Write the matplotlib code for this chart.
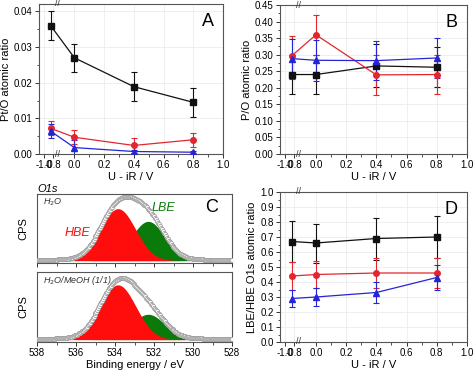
import numpy as np
import matplotlib
matplotlib.use("Agg")
import matplotlib.pyplot as plt
from matplotlib.ticker import MultipleLocator, AutoMinorLocator, FixedLocator
import matplotlib.transforms as mtransforms

plt.rcParams['font.family'] = ['Liberation Sans', 'DejaVu Sans']
plt.rcParams['axes.unicode_minus'] = False

# potentials (U - iR); first point sits left of the axis break
potential = [-0.85, 0.0, 0.4, 0.8]

# panel A: Pt/O atomic ratio
pt_black = [0.0360, 0.0270, 0.0189, 0.0145]
pt_black_err = [0.0040, 0.0040, 0.0041, 0.0040]
pt_red = [0.0072, 0.0047, 0.0024, 0.0040]
pt_red_err = [0.0020, 0.0020, 0.0020, 0.0020]
pt_blue = [0.0064, 0.0018, 0.0007, 0.0005]
pt_blue_err = [0.0020, 0.0020, 0.0003, 0.0003]

# panel B: P/O atomic ratio
p_black = [0.240, 0.240, 0.266, 0.262]
p_black_err = [0.060, 0.060, 0.065, 0.060]
p_red = [0.297, 0.360, 0.239, 0.240]
p_red_err = [0.060, 0.060, 0.060, 0.060]
p_blue = [0.288, 0.283, 0.282, 0.290]
p_blue_err = [0.060, 0.062, 0.060, 0.060]

# panel D: LBE/HBE O1s ratio
o_black = [0.670, 0.660, 0.690, 0.700]
o_black_err = [0.135, 0.130, 0.140, 0.140]
o_red = [0.440, 0.450, 0.460, 0.460]
o_red_err = [0.095, 0.090, 0.100, 0.100]
o_blue = [0.290, 0.300, 0.330, 0.430]
o_blue_err = [0.058, 0.060, 0.068, 0.085]

# panel C: fitted O1s components (centre eV, height rel., sigma eV)
peak_names = ["HBE", "LBE"]
peak_centers = [533.85, 532.30]
h2o_heights = [0.78, 0.59]
h2o_sigmas = [0.90, 0.85]
meoh_heights = [0.81, 0.375]
meoh_sigmas = [0.92, 0.85]

xticks = [-1.0, -0.8, 0.0, 0.2, 0.4, 0.6, 0.8, 1.0]
series_colors = ["#111111", "#e3262d", "#2525d6"]
series_markers = ["s", "o", "^"]


def fwd(x):
    x = np.asarray(x, dtype=float)
    return np.where(x >= 0, x, np.where(x >= -0.8, 0.18 * x, -0.144 + 0.3 * (x + 0.8)))


def inv(u):
    u = np.asarray(u, dtype=float)
    return np.where(u >= 0, u, np.where(u >= -0.144, u / 0.18, -0.8 + (u + 0.144) / 0.3))


def px(l, t, r, b):
    return [l / 474, 1 - b / 375, (r - l) / 474, (b - t) / 375]


def style_ticks(ax):
    ax.tick_params(labelsize=7, length=3, width=0.7, pad=1.5, colors='#333333', labelcolor='black')
    ax.tick_params(which='minor', length=1.8, width=0.6, colors='#333333')
    for s in ax.spines.values():
        s.set_color('#555555')
        s.set_linewidth(0.8)


def ratio_panel(ax, data, ylim, ystep, yfmt, ylabel, letter):
    ax.set_xscale('function', functions=(fwd, inv))
    for (y, e), c, m in zip(data, series_colors, series_markers):
        ax.errorbar(potential, y, yerr=e, color=c, marker=m, ms=4, lw=0.9,
                    elinewidth=0.8, capsize=2, capthick=0.8, zorder=3)
    ax.set_xlim(-1.113, 1.0)
    ax.set_ylim(*ylim)
    ax.xaxis.set_major_locator(FixedLocator(xticks))
    ax.set_xticklabels([f"{t:.1f}" for t in xticks])
    ax.xaxis.set_minor_locator(FixedLocator([0.1, 0.3, 0.5, 0.7, 0.9]))
    ax.yaxis.set_major_locator(MultipleLocator(ystep))
    ax.yaxis.set_minor_locator(AutoMinorLocator(2))
    ax.yaxis.set_major_formatter(yfmt)
    style_ticks(ax)
    ax.grid(True, which='major', color='#ececec', lw=0.6)
    ax.set_axisbelow(True)
    ax.set_xlabel("U - iR / V", fontsize=8, labelpad=1.5)
    ax.set_ylabel(ylabel, fontsize=8, labelpad=2)
    ax.text(0.95, 0.88, letter, transform=ax.transAxes, fontsize=13, ha='right', va='center')
    # axis break marks
    tr = mtransforms.blended_transform_factory(ax.transData, ax.transAxes)
    for yy in (0.0, 1.0):
        ax.text(-0.64, yy, "//", transform=tr, fontsize=6.5, ha='center', va='center',
                color='#333333', clip_on=False)


fig = plt.figure(figsize=(4.74, 3.75), dpi=100)

axA = fig.add_axes(px(39, 4, 223, 154))
ratio_panel(axA, [(pt_black, pt_black_err), (pt_red, pt_red_err), (pt_blue, pt_blue_err)],
            (0, 0.0421), 0.01, "{x:.2f}", "Pt/O atomic ratio", "A")

axB = fig.add_axes(px(280, 5, 467, 154))
ratio_panel(axB, [(p_black, p_black_err), (p_red, p_red_err), (p_blue, p_blue_err)],
            (0, 0.45), 0.05, "{x:.2f}", "P/O atomic ratio", "B")

axD = fig.add_axes(px(280, 192, 467, 342))
ratio_panel(axD, [(o_black, o_black_err), (o_red, o_red_err), (o_blue, o_blue_err)],
            (0, 1.0), 0.1, "{x:.1f}", "LBE/HBE O1s atomic ratio", "D")

# panel C: O1s spectra with fitted components
energy = np.arange(538.0, 527.95, -0.05)
axC1 = fig.add_axes(px(37, 194, 232, 263))
axC2 = fig.add_axes(px(37, 272, 232, 342))

for ax, heights, sigmas, title in [(axC1, h2o_heights, h2o_sigmas, "H$_2$O"),
                                   (axC2, meoh_heights, meoh_sigmas, "H$_2$O/MeOH (1/1)")]:
    comps = [h * np.exp(-0.5 * ((energy - c) / s) ** 2)
             for c, h, s in zip(peak_centers, heights, sigmas)]
    ax.fill_between(energy, 0, comps[1], color='#0a7a0a', lw=0, zorder=2)
    ax.fill_between(energy, 0, comps[0], color='#ff0d0d', lw=0, zorder=3)
    envelope = comps[0] + comps[1]
    ax.plot(energy, envelope + 0.015, ls='none', marker='o', ms=3, mfc='white',
            mec='#9a9a9a', mew=0.55, zorder=4)
    ax.set_xlim(538, 528)
    ax.set_ylim(-0.035, 1.0)
    ax.set_yticks([])
    ax.xaxis.set_major_locator(MultipleLocator(2))
    ax.xaxis.set_minor_locator(MultipleLocator(1))
    style_ticks(ax)
    ax.set_ylabel("CPS", fontsize=8, labelpad=6)
    ax.text(0.03, 0.88, title, transform=ax.transAxes, fontsize=6.5, style='italic',
            color='#333333', va='center')

axC1.tick_params(labelbottom=False)
axC2.set_xlabel("Binding energy / eV", fontsize=8, labelpad=1.5)
axC1.text(0.0, 1.07, "O1s", transform=axC1.transAxes, fontsize=8, style='italic', va='center')
axC1.text(535.9, 0.41, "HBE", fontsize=9, style='italic', color='#ff0d0d', ha='center', va='center')
axC1.text(531.5, 0.79, "LBE", fontsize=9, style='italic', color='#0a7a0a', ha='center', va='center')
axC1.text(0.93, 0.8, "C", transform=axC1.transAxes, fontsize=13, ha='right', va='center')

fig.savefig("out.png", dpi=100)
